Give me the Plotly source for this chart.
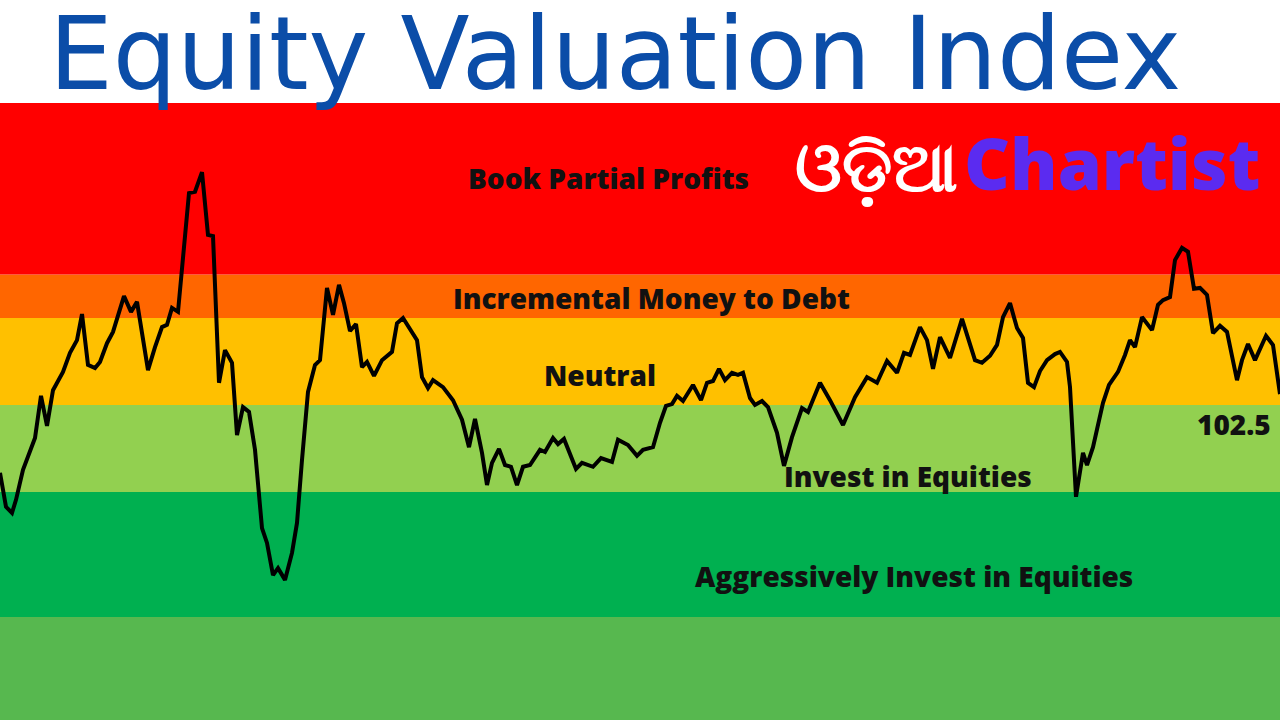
import plotly.graph_objects as go

# time position (arbitrary units across the chart) and index value
t = [0, 6, 12, 16, 23, 30, 35, 41, 47, 53, 63, 70, 77, 82, 88, 95, 100, 107, 113, 124,
     131, 137, 148, 155, 162, 167, 172, 178, 189, 195, 202, 208, 213, 219, 225, 232, 237, 243, 249, 255,
     262, 267, 273, 278, 285, 292, 297, 302, 308, 315, 320, 327, 333, 339, 344, 350, 356, 362, 367, 374,
     382, 392, 397, 403, 417, 422, 428, 433, 443, 453, 462, 469, 475, 482, 487, 492, 499, 505, 511, 517,
     523, 530, 540, 545, 553, 558, 564, 576, 582, 593, 601, 612, 618, 628, 637, 643, 653, 660, 666, 672,
     677, 683, 693, 701, 707, 713, 719, 725, 732, 738, 743, 750, 755, 762, 768, 777, 784, 792, 802, 808,
     820, 830, 843, 855, 867, 877, 887, 897, 904, 910, 920, 927, 933, 940, 950, 962, 968, 975, 982, 990,
     997, 1003, 1010, 1017, 1023, 1028, 1034, 1040, 1047, 1055, 1060, 1067, 1070, 1076, 1083, 1087, 1093, 1103, 1109, 1118,
     1125, 1130, 1135, 1142, 1152, 1158, 1163, 1170, 1175, 1182, 1188, 1194, 1200, 1207, 1213, 1220, 1227, 1237, 1242, 1248,
     1255, 1266, 1273, 1280]
index_values = [84.4, 76.6, 75.2, 78.2, 85.1, 89.7, 92.4, 102.1, 95.2, 103.4, 107.6, 112.0, 114.9, 120.9, 109.2, 108.5, 109.9, 114.2, 116.8, 125.0,
                121.4, 123.7, 108.0, 113.3, 117.9, 118.4, 122.3, 121.4, 148.7, 149.0, 153.5, 139.1, 138.8, 105.1, 112.6, 109.7, 93.1, 99.5, 98.4, 89.7,
                71.7, 68.3, 60.9, 62.5, 59.8, 66.0, 72.9, 87.4, 103.0, 109.2, 110.3, 126.9, 120.7, 127.6, 123.4, 117.0, 118.6, 108.7, 109.9, 106.7,
                110.3, 112.2, 118.8, 120.0, 114.9, 106.4, 103.9, 105.7, 104.1, 101.1, 96.6, 90.3, 96.8, 89.0, 81.6, 86.7, 89.9, 86.2, 85.8, 81.6,
                85.8, 86.2, 89.7, 89.2, 92.4, 91.0, 92.2, 85.3, 86.7, 85.8, 87.8, 86.9, 92.0, 90.8, 88.3, 89.7, 90.3, 95.9, 99.8, 100.2,
                102.1, 100.9, 104.6, 101.1, 105.1, 105.5, 108.3, 105.7, 107.4, 106.9, 107.4, 101.6, 100.0, 100.9, 99.5, 93.6, 86.0, 92.6, 99.3, 98.4,
                105.1, 101.1, 95.4, 101.8, 106.4, 105.1, 110.1, 107.4, 112.0, 111.5, 117.9, 114.9, 108.3, 115.6, 110.8, 119.8, 115.4, 110.3, 109.7, 111.3,
                113.8, 120.2, 123.4, 117.7, 115.4, 105.1, 104.1, 107.8, 110.3, 111.7, 112.2, 109.9, 104.1, 78.9, 89.0, 86.2, 90.3, 100.5, 104.6, 107.6,
                111.5, 114.9, 113.3, 120.2, 117.2, 123.0, 124.1, 124.8, 133.3, 136.1, 135.2, 126.7, 126.9, 125.3, 116.5, 118.2, 116.8, 105.7, 110.3, 114.0,
                110.3, 115.9, 113.8, 102.5]

# zones: boundaries, colours, labels
zone_bounds = [27.6, 51.3, 80, 100, 120, 130, 169.4]
zone_colors = ["#57B84F", "#00B050", "#92D050", "#FFC000", "#FF6600", "#FF0000"]
zone_labels = ["", "Aggressively Invest in Equities", "Invest in Equities", "Neutral",
               "Incremental Money to Debt", "Book Partial Profits"]
label_x = [0, 914, 908, 600, 651, 608]
label_y = [0, 60.7, 83.7, 106.9, 124.6, 152.2]

last_value_label = "102.5"

fig = go.Figure()
fig.add_trace(go.Scatter(x=t, y=index_values, mode="lines",
                         line=dict(color="black", width=4), hoverinfo="skip"))

shapes = []
for i, c in enumerate(zone_colors):
    shapes.append(dict(type="rect", xref="paper", yref="y", x0=0, x1=1,
                       y0=zone_bounds[i], y1=zone_bounds[i + 1],
                       fillcolor=c, line=dict(width=0), layer="below"))

lab_font = dict(family="Open Sans", size=28, color="#111111", weight=800)
annotations = []
for lab, lx, ly in zip(zone_labels, label_x, label_y):
    if lab:
        annotations.append(dict(x=lx, y=ly, xref="x", yref="y", text=lab,
                                xanchor="center", yanchor="middle",
                                showarrow=False, font=lab_font))
annotations.append(dict(x=1234, y=95.6, xref="x", yref="y", text=last_value_label,
                        xanchor="center", yanchor="middle",
                        showarrow=False, font=lab_font))
annotations.append(dict(x=615 / 1280, y=1 - 54 / 720, xref="paper", yref="paper",
                        text="Equity Valuation Index", xanchor="center", yanchor="middle",
                        showarrow=False, font=dict(family="DejaVu Sans", size=101, color="#0B4DA8")))
annotations.append(dict(x=960 / 1280, y=1 - 165 / 720, xref="paper", yref="paper", text="<b>ଓଡ଼ିଆ</b>",
                        xanchor="right", yanchor="middle",
                        showarrow=False, font=dict(family="Noto Sans", size=68, color="white")))
annotations.append(dict(x=962 / 1280, y=1 - 163 / 720, xref="paper", yref="paper", text="Chartist",
                        xanchor="left", yanchor="middle",
                        showarrow=False, font=dict(family="Open Sans", size=71, weight=800, color="#5B2BF0")))

fig.update_layout(
    width=1280, height=720,
    margin=dict(l=0, r=0, t=0, b=0),
    paper_bgcolor="white", plot_bgcolor="white",
    showlegend=False,
    shapes=shapes, annotations=annotations,
    xaxis=dict(range=[0, 1280], visible=False, fixedrange=True),
    yaxis=dict(range=[27.6, 169.4], visible=False, domain=[0, 617 / 720], fixedrange=True),
)

fig.write_html("out.html", config={"displayModeBar": False},
               post_script="document.body.style.margin='0';document.body.style.overflow='hidden';")
